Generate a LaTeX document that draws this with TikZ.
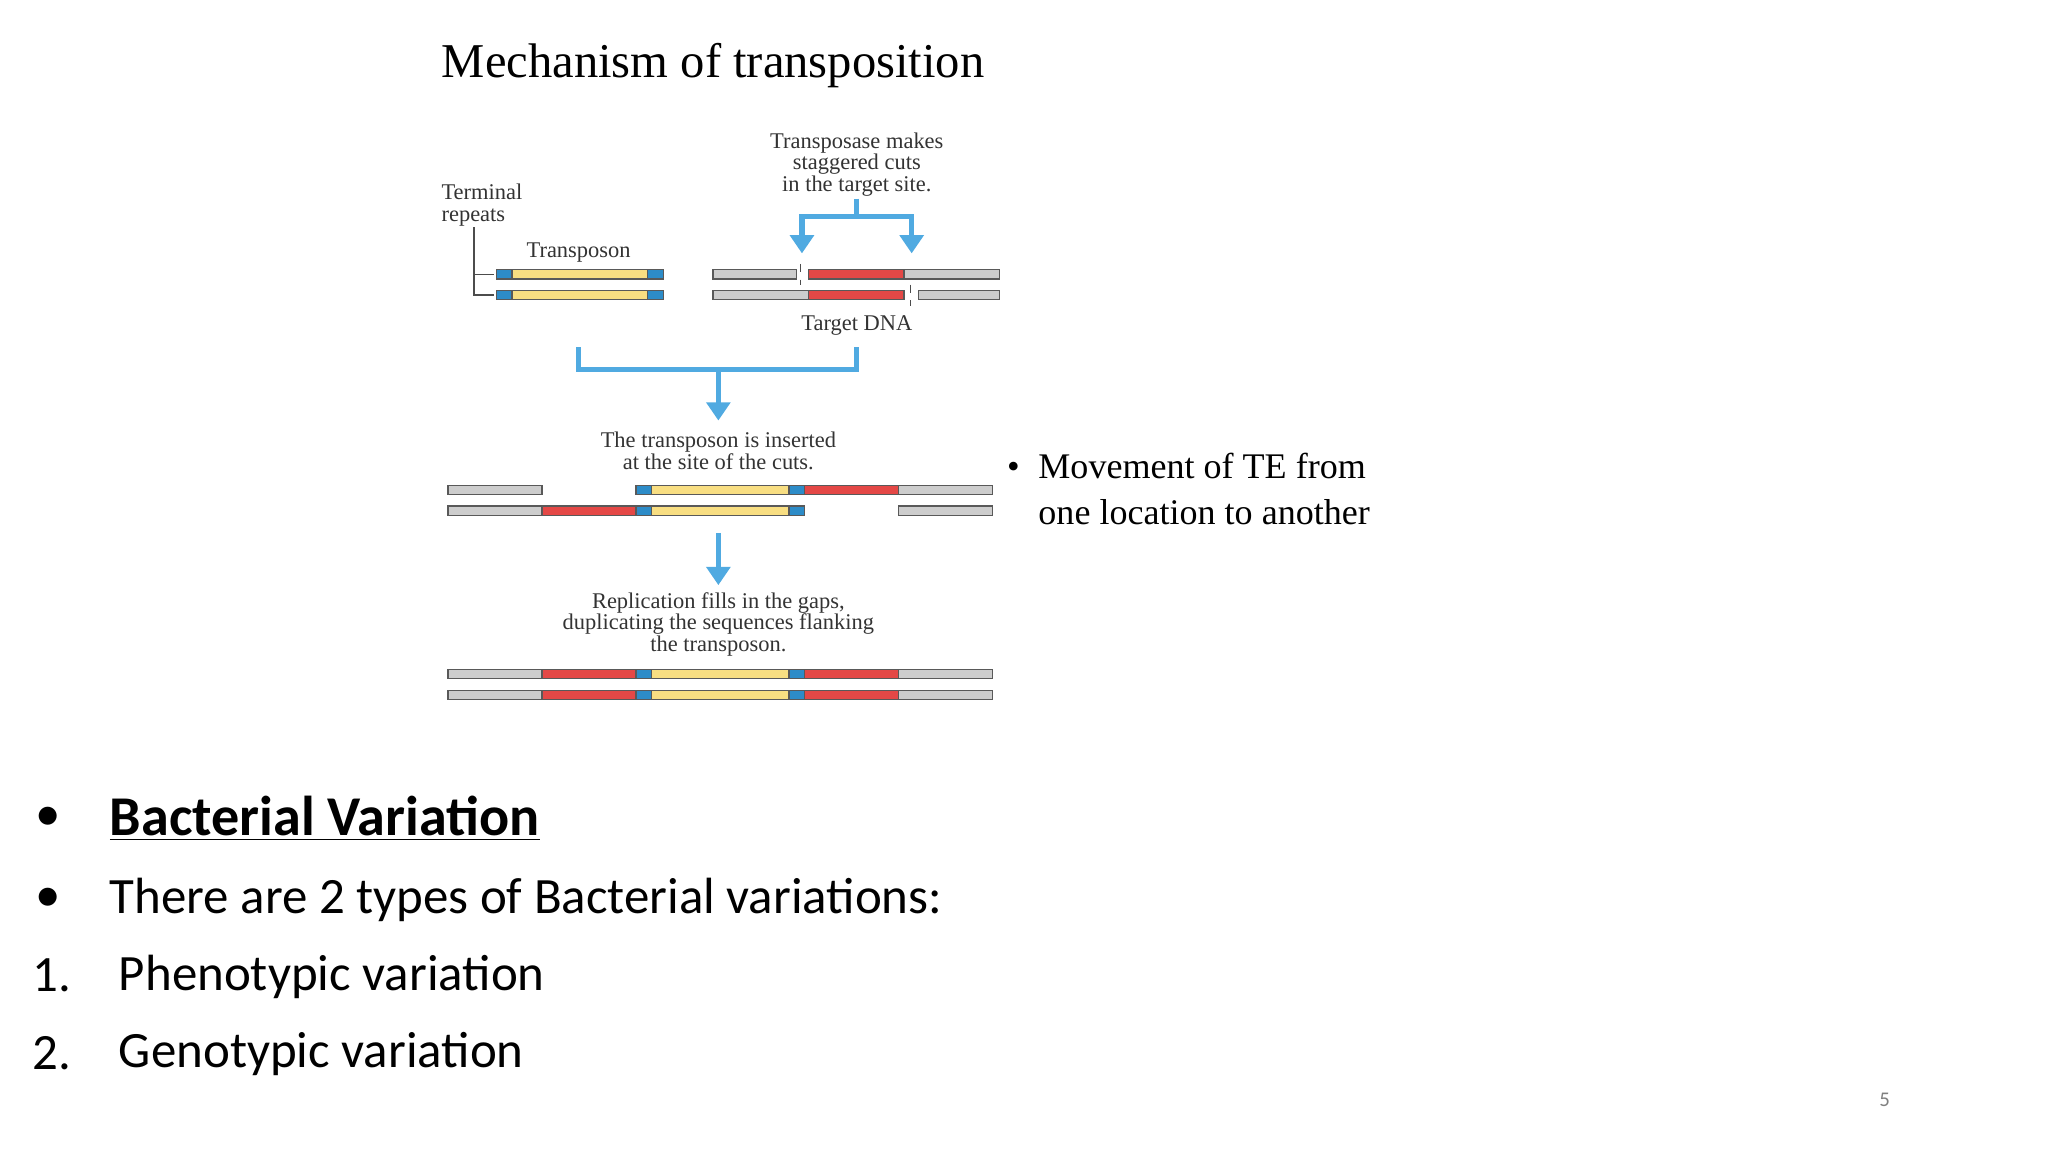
\documentclass[tikz,border=0pt]{standalone}
\usepackage{fontspec}
\setmainfont{Liberation Serif}
\newfontfamily\calfnt{Carlito}
\usetikzlibrary{arrows.meta}
\definecolor{gr}{RGB}{205,205,205}
\definecolor{rd}{RGB}{228,72,70}
\definecolor{yl}{RGB}{248,222,130}
\definecolor{bl}{RGB}{45,140,200}
\definecolor{ar}{RGB}{80,170,225}
\newcommand{\sg}[4]{\fill[#4,draw=black!65,line width=0.5pt] (#1,#3-3.5) rectangle (#2,#3+3.5);}
\tikzset{lab/.style={font=\fontsize{8.6}{8.3}\selectfont,align=center,text=black!80},
 blu/.style={draw=ar,line width=2pt},
 blarr/.style={blu,-{Triangle[width=9pt,length=7pt]}},
 cal/.style={font=\calfnt\fontsize{19.5}{22}\selectfont,anchor=west}}
\begin{document}
\begin{tikzpicture}[x=0.5pt,y=-0.5pt]
\useasboundingbox (0,0) rectangle (1568,882);
\node[font=\fontsize{18.6}{20}\selectfont] (title) at (546,50) {Mechanism of transposition};
% transposon
\node[lab,align=left,anchor=north west] (term) at (331,134) {Terminal\\repeats};
\draw[black!70,line width=0.6pt] (363,174) -- (363,226) -- (378,226) (363,210) -- (378,210);
\node[lab] (tn) at (443,193) {Transposon};
\foreach \y in {210,226}{\sg{380}{508}{\y}{yl}\sg{380}{392}{\y}{bl}\sg{496}{508}{\y}{bl}}
% target
\node[lab] (tp) at (656,126) {Transposase makes\\staggered cuts\\in the target site.};
\sg{546}{610}{210}{gr}\sg{619}{692}{210}{rd}\sg{692}{765}{210}{gr}
\sg{546}{692}{226}{gr}\sg{619}{692}{226}{rd}\sg{703}{765}{226}{gr}
\draw[black!70,dashed,line width=0.5pt] (613,202)--(613,218) (697,218)--(697,234);
\node[lab] (td) at (656,249) {Target DNA};
\coordinate (c1) at (656,152);
\draw[blu] (c1) -- (656,166);
\draw[blarr] (656,166) -| (614,194);
\draw[blarr] (656,166) -| (698,194);
\draw[blu] (443,266) |- (656,283) -- (656,266);
\coordinate (c2) at (550,283);
\draw[blarr] (c2) -- (550,322);
\node[lab] (ins) at (550,345) {The transposon is inserted\\at the site of the cuts.};
% row 2
\sg{343}{415}{375}{gr}\sg{499}{604}{375}{yl}\sg{487}{499}{375}{bl}\sg{604}{616}{375}{bl}\sg{616}{688}{375}{rd}\sg{688}{760}{375}{gr}
\sg{343}{415}{391}{gr}\sg{415}{487}{391}{rd}\sg{487}{499}{391}{bl}\sg{499}{604}{391}{yl}\sg{604}{616}{391}{bl}\sg{688}{760}{391}{gr}
\coordinate (c3) at (550,408);
\draw[blarr] (c3) -- (550,448);
\node[lab] (rep) at (550,478) {Replication fills in the gaps,\\duplicating the sequences flanking\\the transposon.};
\foreach \y in {516,532}{\sg{343}{415}{\y}{gr}\sg{415}{487}{\y}{rd}\sg{487}{499}{\y}{bl}\sg{499}{604}{\y}{yl}\sg{604}{616}{\y}{bl}\sg{616}{688}{\y}{rd}\sg{688}{760}{\y}{gr}}
% side text
\node[font=\fontsize{13.8}{17.5}\selectfont,anchor=north west,align=left] (mv) at (764,340) {\makebox[12pt][l]{\textbullet}Movement of TE from\\\hspace*{12pt}one location to another};
% bottom bullets
\node[cal] (b1) at (20,627) {\textbullet};
\node[cal,font=\calfnt\bfseries\fontsize{21.5}{24}\selectfont] (bv) at (77,627) {\underline{Bacterial Variation}};
\node[cal] (b2) at (20,689) {\textbullet};
\node[cal] (t2) at (77,689) {There are 2 types of Bacterial variations:};
\node[cal] (n1) at (18,747) {1.};
\node[cal] (p1) at (84,748) {Phenotypic variation};
\node[cal] (n2) at (18,806) {2.};
\node[cal] (p2) at (84,807) {Genotypic variation};
\node[font=\calfnt\fontsize{8}{9}\selectfont,text=black!50] (pg) at (1443,842) {5};
\end{tikzpicture}
\end{document}
